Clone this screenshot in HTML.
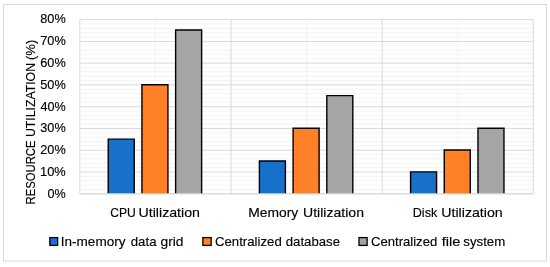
<!DOCTYPE html>
<html><head><meta charset="utf-8"><title>Resource utilization</title>
<style>html,body{margin:0;padding:0;background:#fff}svg{display:block;filter:blur(0.3px)}text{font-family:"Liberation Sans",sans-serif;fill:#000;stroke:#000;stroke-width:0.15px}</style></head><body>
<svg width="550" height="267" viewBox="0 0 550 267">
<rect x="0" y="0" width="550" height="267" fill="#fff"/>
<rect x="3.5" y="4.5" width="543" height="256.5" fill="#fff" stroke="#d9d9d9" stroke-width="1"/>
<line x1="79.8" x2="533.3" y1="23.96" y2="23.96" stroke="#f3f3f3" stroke-width="1"/>
<line x1="79.8" x2="533.3" y1="28.31" y2="28.31" stroke="#f3f3f3" stroke-width="1"/>
<line x1="79.8" x2="533.3" y1="32.67" y2="32.67" stroke="#f3f3f3" stroke-width="1"/>
<line x1="79.8" x2="533.3" y1="37.02" y2="37.02" stroke="#f3f3f3" stroke-width="1"/>
<line x1="79.8" x2="533.3" y1="45.73" y2="45.73" stroke="#f3f3f3" stroke-width="1"/>
<line x1="79.8" x2="533.3" y1="50.09" y2="50.09" stroke="#f3f3f3" stroke-width="1"/>
<line x1="79.8" x2="533.3" y1="54.44" y2="54.44" stroke="#f3f3f3" stroke-width="1"/>
<line x1="79.8" x2="533.3" y1="58.80" y2="58.80" stroke="#f3f3f3" stroke-width="1"/>
<line x1="79.8" x2="533.3" y1="67.51" y2="67.51" stroke="#f3f3f3" stroke-width="1"/>
<line x1="79.8" x2="533.3" y1="71.86" y2="71.86" stroke="#f3f3f3" stroke-width="1"/>
<line x1="79.8" x2="533.3" y1="76.22" y2="76.22" stroke="#f3f3f3" stroke-width="1"/>
<line x1="79.8" x2="533.3" y1="80.57" y2="80.57" stroke="#f3f3f3" stroke-width="1"/>
<line x1="79.8" x2="533.3" y1="89.28" y2="89.28" stroke="#f3f3f3" stroke-width="1"/>
<line x1="79.8" x2="533.3" y1="93.63" y2="93.63" stroke="#f3f3f3" stroke-width="1"/>
<line x1="79.8" x2="533.3" y1="97.99" y2="97.99" stroke="#f3f3f3" stroke-width="1"/>
<line x1="79.8" x2="533.3" y1="102.34" y2="102.34" stroke="#f3f3f3" stroke-width="1"/>
<line x1="79.8" x2="533.3" y1="111.06" y2="111.06" stroke="#f3f3f3" stroke-width="1"/>
<line x1="79.8" x2="533.3" y1="115.41" y2="115.41" stroke="#f3f3f3" stroke-width="1"/>
<line x1="79.8" x2="533.3" y1="119.77" y2="119.77" stroke="#f3f3f3" stroke-width="1"/>
<line x1="79.8" x2="533.3" y1="124.12" y2="124.12" stroke="#f3f3f3" stroke-width="1"/>
<line x1="79.8" x2="533.3" y1="132.83" y2="132.83" stroke="#f3f3f3" stroke-width="1"/>
<line x1="79.8" x2="533.3" y1="137.19" y2="137.19" stroke="#f3f3f3" stroke-width="1"/>
<line x1="79.8" x2="533.3" y1="141.54" y2="141.54" stroke="#f3f3f3" stroke-width="1"/>
<line x1="79.8" x2="533.3" y1="145.90" y2="145.90" stroke="#f3f3f3" stroke-width="1"/>
<line x1="79.8" x2="533.3" y1="154.61" y2="154.61" stroke="#f3f3f3" stroke-width="1"/>
<line x1="79.8" x2="533.3" y1="158.96" y2="158.96" stroke="#f3f3f3" stroke-width="1"/>
<line x1="79.8" x2="533.3" y1="163.31" y2="163.31" stroke="#f3f3f3" stroke-width="1"/>
<line x1="79.8" x2="533.3" y1="167.67" y2="167.67" stroke="#f3f3f3" stroke-width="1"/>
<line x1="79.8" x2="533.3" y1="176.38" y2="176.38" stroke="#f3f3f3" stroke-width="1"/>
<line x1="79.8" x2="533.3" y1="180.74" y2="180.74" stroke="#f3f3f3" stroke-width="1"/>
<line x1="79.8" x2="533.3" y1="185.09" y2="185.09" stroke="#f3f3f3" stroke-width="1"/>
<line x1="79.8" x2="533.3" y1="189.45" y2="189.45" stroke="#f3f3f3" stroke-width="1"/>
<line x1="155.38" x2="155.38" y1="19.6" y2="193.8" stroke="#f3f3f3" stroke-width="1"/>
<line x1="306.55" x2="306.55" y1="19.6" y2="193.8" stroke="#f3f3f3" stroke-width="1"/>
<line x1="457.72" x2="457.72" y1="19.6" y2="193.8" stroke="#f3f3f3" stroke-width="1"/>
<line x1="79.8" x2="533.3" y1="19.60" y2="19.60" stroke="#d9d9d9" stroke-width="1"/>
<line x1="79.8" x2="533.3" y1="41.38" y2="41.38" stroke="#d9d9d9" stroke-width="1"/>
<line x1="79.8" x2="533.3" y1="63.15" y2="63.15" stroke="#d9d9d9" stroke-width="1"/>
<line x1="79.8" x2="533.3" y1="84.93" y2="84.93" stroke="#d9d9d9" stroke-width="1"/>
<line x1="79.8" x2="533.3" y1="106.70" y2="106.70" stroke="#d9d9d9" stroke-width="1"/>
<line x1="79.8" x2="533.3" y1="128.48" y2="128.48" stroke="#d9d9d9" stroke-width="1"/>
<line x1="79.8" x2="533.3" y1="150.25" y2="150.25" stroke="#d9d9d9" stroke-width="1"/>
<line x1="79.8" x2="533.3" y1="172.03" y2="172.03" stroke="#d9d9d9" stroke-width="1"/>
<line x1="79.8" x2="533.3" y1="193.80" y2="193.80" stroke="#d9d9d9" stroke-width="1"/>
<line x1="79.80" x2="79.80" y1="19.6" y2="193.8" stroke="#d9d9d9" stroke-width="1"/>
<line x1="230.97" x2="230.97" y1="19.6" y2="193.8" stroke="#d9d9d9" stroke-width="1"/>
<line x1="382.13" x2="382.13" y1="19.6" y2="193.8" stroke="#d9d9d9" stroke-width="1"/>
<line x1="533.30" x2="533.30" y1="19.6" y2="193.8" stroke="#d9d9d9" stroke-width="1"/>
<path d="M108.23 193.8V139.16H134.23V193.8" fill="#1771cb" stroke="#000" stroke-width="1.4"/>
<path d="M141.93 193.8V84.72H167.93V193.8" fill="#ff8026" stroke="#000" stroke-width="1.4"/>
<path d="M175.63 193.8V29.99H201.63V193.8" fill="#a5a5a5" stroke="#000" stroke-width="1.4"/>
<path d="M259.40 193.8V160.94H285.40V193.8" fill="#1771cb" stroke="#000" stroke-width="1.4"/>
<path d="M293.10 193.8V128.28H319.10V193.8" fill="#ff8026" stroke="#000" stroke-width="1.4"/>
<path d="M326.80 193.8V95.61H352.80V193.8" fill="#a5a5a5" stroke="#000" stroke-width="1.4"/>
<path d="M410.57 193.8V171.83H436.57V193.8" fill="#1771cb" stroke="#000" stroke-width="1.4"/>
<path d="M444.27 193.8V150.05H470.27V193.8" fill="#ff8026" stroke="#000" stroke-width="1.4"/>
<path d="M477.97 193.8V128.28H503.97V193.8" fill="#a5a5a5" stroke="#000" stroke-width="1.4"/>
<line x1="79.8" x2="533.3" y1="193.8" y2="193.8" stroke="#d9d9d9" stroke-width="1"/>
<text y="217.4" font-size="13.5"><tspan x="110.25" textLength="25.50" lengthAdjust="spacingAndGlyphs">CPU</tspan> <tspan x="138.50" textLength="61.50" lengthAdjust="spacingAndGlyphs">Utilization</tspan></text>
<text y="217.4" font-size="13.5"><tspan x="248.25" textLength="50.00" lengthAdjust="spacingAndGlyphs">Memory</tspan> <tspan x="303.00" textLength="61.00" lengthAdjust="spacingAndGlyphs">Utilization</tspan></text>
<text y="217.4" font-size="13.5"><tspan x="412.75" textLength="24.50" lengthAdjust="spacingAndGlyphs">Disk</tspan> <tspan x="441.25" textLength="61.50" lengthAdjust="spacingAndGlyphs">Utilization</tspan></text>
<text y="245.9" font-size="13.5"><tspan x="60.75" textLength="64.75" lengthAdjust="spacingAndGlyphs">In-memory</tspan> <tspan x="130.75" textLength="25.75" lengthAdjust="spacingAndGlyphs">data</tspan> <tspan x="160.50" textLength="23.00" lengthAdjust="spacingAndGlyphs">grid</tspan></text>
<text y="245.9" font-size="13.5"><tspan x="215.00" textLength="66.75" lengthAdjust="spacingAndGlyphs">Centralized</tspan> <tspan x="285.75" textLength="54.25" lengthAdjust="spacingAndGlyphs">database</tspan></text>
<text y="245.9" font-size="13.5"><tspan x="371.00" textLength="66.25" lengthAdjust="spacingAndGlyphs">Centralized</tspan> <tspan x="441.75" textLength="18.75" lengthAdjust="spacingAndGlyphs">file</tspan> <tspan x="463.25" textLength="42.00" lengthAdjust="spacingAndGlyphs">system</tspan></text>
<text y="197.7" font-size="13.5"><tspan x="47.50" textLength="18.25" lengthAdjust="spacingAndGlyphs">0%</tspan></text>
<text y="175.9" font-size="13.5"><tspan x="40.00" textLength="25.75" lengthAdjust="spacingAndGlyphs">10%</tspan></text>
<text y="154.1" font-size="13.5"><tspan x="40.25" textLength="25.50" lengthAdjust="spacingAndGlyphs">20%</tspan></text>
<text y="132.3" font-size="13.5"><tspan x="40.25" textLength="25.50" lengthAdjust="spacingAndGlyphs">30%</tspan></text>
<text y="110.5" font-size="13.5"><tspan x="40.50" textLength="25.25" lengthAdjust="spacingAndGlyphs">40%</tspan></text>
<text y="88.7" font-size="13.5"><tspan x="40.25" textLength="25.50" lengthAdjust="spacingAndGlyphs">50%</tspan></text>
<text y="66.9" font-size="13.5"><tspan x="40.25" textLength="25.50" lengthAdjust="spacingAndGlyphs">60%</tspan></text>
<text y="45.1" font-size="13.5"><tspan x="40.25" textLength="25.50" lengthAdjust="spacingAndGlyphs">70%</tspan></text>
<text y="23.3" font-size="13.5"><tspan x="40.25" textLength="25.50" lengthAdjust="spacingAndGlyphs">80%</tspan></text>
<text transform="translate(35.3,0) rotate(-90)" y="0" font-size="13.5"><tspan x="-204.50" textLength="64.00" lengthAdjust="spacingAndGlyphs">RESOURCE</tspan> <tspan x="-137.00" textLength="74.00" lengthAdjust="spacingAndGlyphs">UTILIZATION</tspan> <tspan x="-60.00" textLength="20.25" lengthAdjust="spacingAndGlyphs">(%)</tspan></text>
<rect x="49.85" y="237.6" width="7.8" height="7.8" fill="#1771cb" stroke="#000" stroke-width="1.3"/>
<rect x="202.85" y="237.6" width="8.3" height="7.8" fill="#ff8026" stroke="#000" stroke-width="1.3"/>
<rect x="359.0" y="237.6" width="8.1" height="7.8" fill="#a5a5a5" stroke="#000" stroke-width="1.3"/>
</svg></body></html>
